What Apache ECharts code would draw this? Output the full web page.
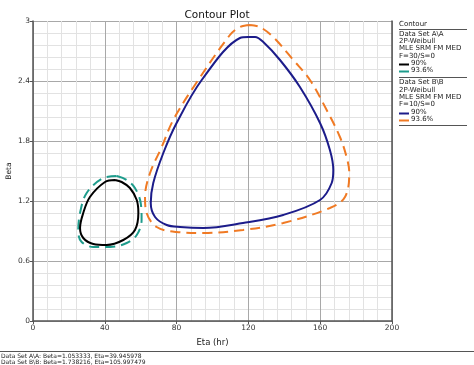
<!DOCTYPE html>
<html>
<head>
<meta charset="utf-8">
<script src="https://cdn.jsdelivr.net/npm/echarts@6/dist/echarts.min.js"></script>
<style>
  html, body { margin: 0; padding: 0; background: #fff; }
  #main { width: 474px; height: 365px; }
</style>
</head>
<body>
<div id="main"></div>
<script>
// contour points, [eta, beta]
var contourA90 = [[45.7,1.41],[40.1,1.39],[31.7,1.24],[28,1.08],[26.2,0.93],[28,0.83],[33.6,0.77],[41,0.76],[50.3,0.81],[56.8,0.91],[58.7,1.08],[57.8,1.21],[54,1.33],[49.4,1.39],[45.7,1.41]];
var contourA936 = [[46.6,1.45],[39.2,1.43],[29.9,1.28],[26.2,1.08],[25.2,0.89],[27.1,0.79],[33.6,0.74],[42.9,0.74],[52.2,0.78],[57.8,0.86],[60.5,1.01],[60,1.18],[56.8,1.33],[52.2,1.41],[46.6,1.45]];
var contourB90 = [[119.9,2.84],[115.3,2.83],[94,2.41],[80,1.98],[72.6,1.68],[67,1.38],[65.6,1.18],[68,1.04],[74.5,0.96],[81.9,0.94],[94.9,0.93],[117,0.98],[139.4,1.06],[159.9,1.21],[166.4,1.38],[167.3,1.51],[165.4,1.71],[159.9,1.98],[148.7,2.34],[137.6,2.61],[128.3,2.79],[123.7,2.84],[119.9,2.84]];
var contourB936 = [[120.9,2.96],[115.3,2.94],[109.7,2.86],[90.2,2.36],[78.1,2.01],[71.7,1.74],[65.2,1.48],[62.4,1.24],[63.3,1.08],[68.9,0.94],[80,0.89],[94.9,0.88],[117,0.91],[139.4,0.98],[165.4,1.13],[173.8,1.24],[176.2,1.48],[174.7,1.64],[171,1.84],[163.6,2.11],[154.3,2.41],[145,2.61],[133.8,2.84],[126.4,2.94],[120.9,2.96]];

var legendA = ['Data Set A\\A', '2P-Weibull', 'MLE SRM FM MED', 'F=30/S=0'];
var legendB = ['Data Set B\\B', '2P-Weibull', 'MLE SRM FM MED', 'F=10/S=0'];
var footer = ['Data Set A\\A: Beta=1.053333, Eta=39.945978', 'Data Set B\\B: Beta=1.738216, Eta=105.997479'];

var colA90 = '#000000', colA936 = '#1e9c8c', colB90 = '#1c1c8a', colB936 = '#f07a24';
var font = 'DejaVu Sans';

var myChart = echarts.init(document.getElementById('main'));

function txt(x, y, s, size) {
	return { type: 'text', left: x, top: y, style: { text: s, font: (size || 7) + 'px "' + font + '"', fill: '#222' } };
}
function line(x1, y1, x2, y2, color, w) {
	return { type: 'line', shape: { x1: x1, y1: y1, x2: x2, y2: y2 }, style: { stroke: color, lineWidth: w || 1 } };
}

var graphics = [
	txt(399, 20.5, 'Contour'),
	line(399, 29.5, 467, 29.5, '#555', 1)
];
legendA.forEach(function(s, i) { graphics.push(txt(399, 30.5 + i * 7.3, s)); });
graphics.push(line(399, 64.5, 409, 64.5, colA90, 2), txt(411, 59.5, '90%'));
graphics.push(line(399, 71.5, 409, 71.5, colA936, 2), txt(411, 67, '93.6%'));
graphics.push(line(399, 77.5, 467, 77.5, '#555', 1));
legendB.forEach(function(s, i) { graphics.push(txt(399, 79 + i * 7.3, s)); });
graphics.push(line(399, 113.5, 409, 113.5, colB90, 2), txt(411, 108.5, '90%'));
graphics.push(line(399, 120.5, 409, 120.5, colB936, 2), txt(411, 116, '93.6%'));
graphics.push(line(399, 125.5, 467, 125.5, '#555', 1));
// footer
graphics.push(line(0, 351.5, 474, 351.5, '#555', 1));
graphics.push(txt(1, 353, footer[0], 6), txt(1, 359, footer[1], 6));

function ser(name, data, color, dashed) {
	return {
		name: name, type: 'line', data: data, smooth: 0.35, symbol: 'none',
		lineStyle: { color: color, width: 2, type: dashed ? [10, 6] : 'solid' },
		z: dashed ? 2 : 3
	};
}

myChart.setOption({
	animation: false,
	title: {
		text: 'Contour Plot', left: 212, top: 5, textAlign: 'center',
		textStyle: { fontFamily: font, fontSize: 10.5, fontWeight: 'normal', color: '#111' }
	},
	grid: { left: 33, top: 21, width: 359, height: 300, outerBoundsMode: 'none', containLabel: false },
	xAxis: {
		type: 'value', min: 0, max: 200, interval: 40,
		name: 'Eta (hr)', nameLocation: 'middle', nameGap: 17,
		nameTextStyle: { fontFamily: font, fontSize: 8.5, color: '#222' },
		axisLine: { show: true, lineStyle: { color: '#555', width: 1.5 } },
		axisTick: { show: true, length: 3, lineStyle: { color: '#555' } },
		axisLabel: { fontFamily: font, fontSize: 7.5, color: '#333', margin: 3 },
		splitLine: { show: true, lineStyle: { color: '#a8a8a8' } },
		minorTick: { show: false, splitNumber: 5 },
		minorSplitLine: { show: true, lineStyle: { color: '#e2e2e2' } }
	},
	yAxis: [{
		type: 'value', min: 0, max: 3, interval: 0.6,
		name: 'Beta', nameLocation: 'middle', nameGap: 20, nameMoveOverlap: false,
		nameTextStyle: { fontFamily: font, fontSize: 7.5, color: '#222' },
		axisLine: { show: true, lineStyle: { color: '#555', width: 1.5 } },
		axisTick: { show: true, length: 3, lineStyle: { color: '#555' } },
		axisLabel: { fontFamily: font, fontSize: 7.5, color: '#333', margin: 3 },
		splitLine: { show: true, lineStyle: { color: '#a8a8a8' } },
		minorTick: { show: false, splitNumber: 5 },
		minorSplitLine: { show: true, lineStyle: { color: '#e2e2e2' } }
	}, {
		type: 'value', min: 0, max: 3, position: 'right',
		axisLine: { show: true, lineStyle: { color: '#555', width: 1.5 } },
		axisTick: { show: false }, axisLabel: { show: false }, splitLine: { show: false }
	}],
	series: [
		ser('A 93.6%', contourA936, colA936, true),
		ser('A 90%', contourA90, colA90, false),
		ser('B 93.6%', contourB936, colB936, true),
		ser('B 90%', contourB90, colB90, false)
	],
	graphic: graphics
});
</script>
</body>
</html>
